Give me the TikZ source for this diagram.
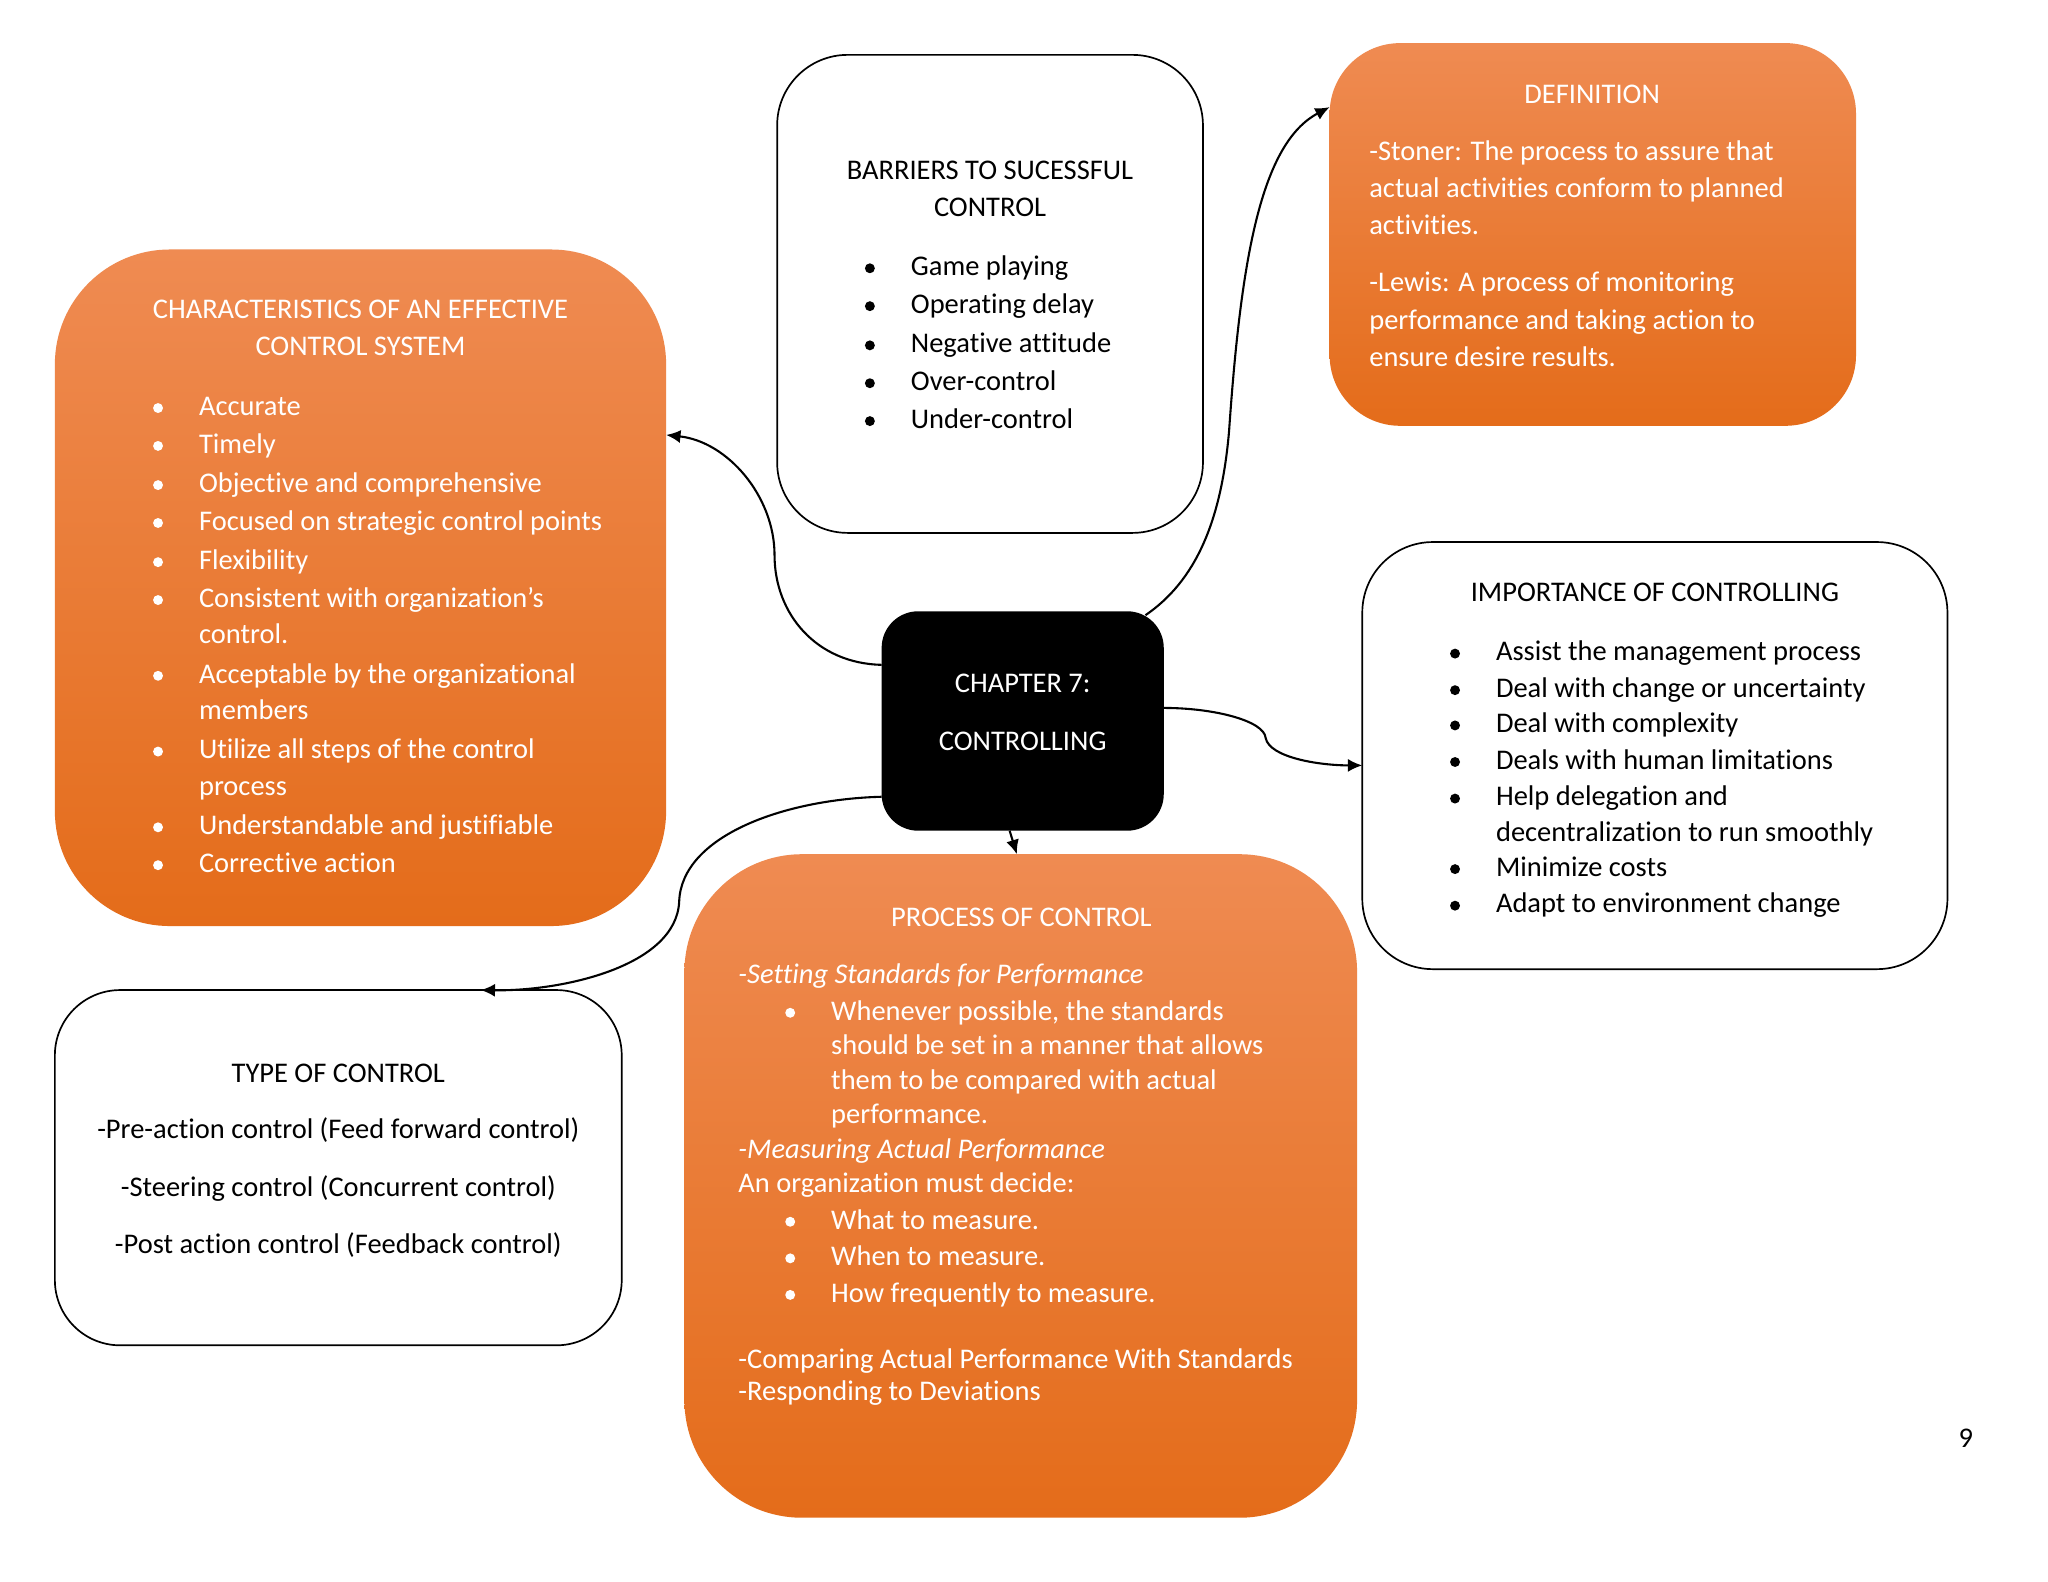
\documentclass[tikz,border=0pt]{standalone}
\usepackage{fontspec}
\setmainfont{Carlito}[Ligatures={NoCommon}]
\usetikzlibrary{arrows.meta,calc}
\definecolor{otop}{RGB}{239,139,82}
\definecolor{omid}{RGB}{244,124,40}
\definecolor{obot}{RGB}{228,108,26}
\begin{document}
\begin{tikzpicture}[x=0.5pt,y=-0.5pt,
  box/.style={rectangle, inner sep=0pt, outer sep=0pt},
  wbox/.style={box, draw=black, line width=0.65pt, fill=white},
  obox/.style={box, top color=otop, middle color=omid, bottom color=obot, draw=none},
  txt/.style={anchor=base west, inner sep=0pt, font=\fontsize{10.9}{13}\selectfont},
  ctxt/.style={anchor=base, inner sep=0pt, font=\fontsize{10.9}{13}\selectfont},
  wt/.style={text=white},
  link/.style={line width=0.8pt, -{Latex[length=5.5pt,width=5pt]}},
]
\useasboundingbox (0,0) rectangle (1568,1211);
\fill[white] (0,0) rectangle (1568,1211);

% boxes
\node[wbox, rounded corners=27pt, minimum width=163pt, minimum height=183pt] (bar) at (758,225) {};
\node[obox, rounded corners=27pt, minimum width=201.5pt, minimum height=146.5pt] (def) at (1219.5,179.5) {};
\node[obox, rounded corners=44pt, minimum width=234pt, minimum height=259pt] (chr) at (276,450) {};
\node[box, fill=black, rounded corners=14pt, minimum width=108pt, minimum height=84pt] (ctr) at (783,552) {};
\node[wbox, rounded corners=27pt, minimum width=224pt, minimum height=163.5pt] (imp) at (1267,578.5) {};
\node[wbox, rounded corners=25pt, minimum width=217pt, minimum height=136pt] (typ) at (259,894) {};
\node[obox, rounded corners=45pt, minimum width=257.5pt, minimum height=254pt] (prc) at (781.5,908) {};

\begin{scope}[yshift=-0.75pt]
% barriers
\node[ctxt] (bart1) at (758,136) {BARRIERS TO SUCESSFUL};
\node[ctxt] (bart2) at (758,164) {CONTROL};
\foreach \y/\t [count=\i] in {209.5/Game playing, 238.5/Operating delay, 268.5/Negative attitude, 297.5/Over-control, 326.5/Under-control}{
  \node[txt] (bar\i) at (697,\y) {\t};
  \fill (666,\y-5.6) circle[radius=1.9pt];
}

% definition
\node[ctxt, wt] (deft) at (1219,77.5) {DEFINITION};
\foreach \y/\t [count=\i] in {121.5/-Stoner: The process to assure that, 150/actual activities conform to planned, 178/activities., 222/-Lewis: A process of monitoring, 250.5/performance and taking action to, 279/ensure desire results.}{
  \node[txt, wt] (def\i) at (1048,\y) {\t};
}

% characteristics
\node[ctxt, wt] (chrt1) at (276,242.5) {CHARACTERISTICS OF AN EFFECTIVE};
\node[ctxt, wt] (chrt2) at (276,270.5) {CONTROL SYSTEM};
\foreach \y/\t/\b [count=\i] in {316.5/Accurate/1, 345.5/Timely/1, 375.5/Objective and comprehensive/1, 404.5/Focused on strategic control points/1, 434.5/Flexibility/1, 463.5/Consistent with organization’s/1, 491.5/control./0, 521.5/Acceptable by the organizational/1, 549.5/members/0, 579.5/Utilize all steps of the control/1, 607.5/process/0, 637.5/Understandable and justifiable/1, 666.5/Corrective action/1}{
  \node[txt, wt] (chr\i) at (152,\y) {\t};
  \ifnum\b=1 \fill[white] (121,\y-5.6) circle[radius=1.9pt];\fi
}

% center
\node[ctxt, wt] (ctrt1) at (783,529) {CHAPTER 7:};
\node[ctxt, wt] (ctrt2) at (783,573) {CONTROLLING};

% importance
\node[ctxt] (impt) at (1267,459) {IMPORTANCE OF CONTROLLING};
\foreach \y/\t/\b [count=\i] in {504.5/Assist the management process/1, 532.5/Deal with change or uncertainty/1, 559.5/Deal with complexity/1, 587.5/Deals with human limitations/1, 615.5/Help delegation and/1, 642.5/decentralization to run smoothly/0, 669.5/Minimize costs/1, 697.5/Adapt to environment change/1}{
  \node[txt] (imp\i) at (1145,\y) {\t};
  \ifnum\b=1 \fill (1114,\y-5.6) circle[radius=1.9pt];\fi
}

% type of control
\node[ctxt] (typt) at (259,827) {TYPE OF CONTROL};
\node[ctxt] (typ1) at (259,870.5) {-Pre-action control (Feed forward control)};
\node[ctxt] (typ2) at (259,914.5) {-Steering control (Concurrent control)};
\node[ctxt] (typ3) at (259,958.5) {-Post action control (Feedback control)};

% process
\node[ctxt, wt] (prct) at (782,708) {PROCESS OF CONTROL};
\node[txt, wt, font=\fontsize{10.9}{13}\selectfont\itshape] (prc1) at (565,751.5) {-Setting Standards for Performance};
\foreach \y/\t/\b [count=\i] in {779.5/{Whenever possible, the standards}/1, 805.5/should be set in a manner that allows/0, 832.5/them to be compared with actual/0, 858.5/performance./0}{
  \node[txt, wt] (prca\i) at (636,\y) {\t};
  \ifnum\b=1 \fill[white] (605,\y-5.6) circle[radius=1.9pt];\fi
}
\node[txt, wt, font=\fontsize{10.9}{13}\selectfont\itshape] (prc2) at (565,885.5) {-Measuring Actual Performance};
\node[txt, wt] (prc3) at (565,911.5) {An organization must decide:};
\foreach \y/\t [count=\i] in {939.5/What to measure., 967.5/When to measure., 995.5/How frequently to measure.}{
  \node[txt, wt] (prcb\i) at (636,\y) {\t};
  \fill[white] (605,\y-5.6) circle[radius=1.9pt];
}
\node[txt, wt] (prc4) at (565,1046.5) {-Comparing Actual Performance With Standards};
\node[txt, wt] (prc5) at (565,1070.5) {-Responding to Deviations};

% page number
\node[ctxt] (pg) at (1505,1107) {9};
\end{scope}

% connectors
\draw[link] ([yshift=21.5pt]ctr.west) .. controls (625,508) and (593,470) .. (593,425) .. controls (593,380) and (557,338) .. ([yshift=58.5pt]chr.east);
\draw[link] ([xshift=-7pt,yshift=-1.5pt]ctr.north east) .. controls (915,445) and (935,400) .. (941,330) .. controls (950,200) and (965,110) .. ([yshift=48.75pt]def.west);
\draw[link] ([yshift=5pt]ctr.east) .. controls (930,542) and (968,552) .. (969,565) .. controls (972,580) and (1010,586) .. ([yshift=-3.75pt]imp.west);
\draw[link] ([yshift=-29pt]ctr.west) .. controls (600,612) and (522,640) .. (520,690) .. controls (518,740) and (430,759) .. ([xshift=54.5pt]typ.north);
\draw[link] ([xshift=-5pt]ctr.south) -- ([xshift=-1.5pt]prc.north);
\end{tikzpicture}
\end{document}
